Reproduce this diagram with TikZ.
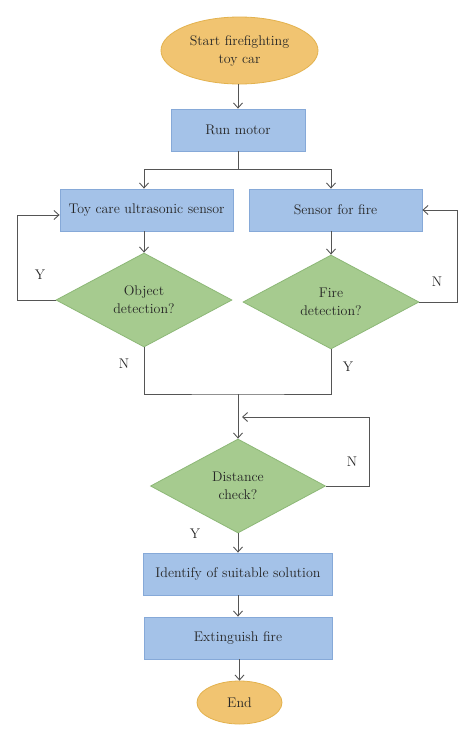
\documentclass[tikz,border=0pt]{standalone}
\usetikzlibrary{shapes.geometric,arrows.meta,calc}
\definecolor{ovfill}{HTML}{F1C471}
\definecolor{ovdraw}{HTML}{E3B24E}
\definecolor{bxfill}{HTML}{A4C2E8}
\definecolor{bxdraw}{HTML}{86A9D8}
\definecolor{dmfill}{HTML}{A6CB8F}
\definecolor{dmdraw}{HTML}{8DB877}
\definecolor{lncol}{HTML}{555555}
\definecolor{txcol}{HTML}{262626}
\begin{document}
\begin{tikzpicture}[x=1pt,y=-1pt,
  every node/.style={font=\fontsize{14}{18}\selectfont,text=txcol,align=center,inner sep=0pt},
  oval/.style={ellipse,fill=ovfill,draw=ovdraw,line width=0.8pt},
  stepbox/.style={rectangle,fill=bxfill,draw=bxdraw,line width=0.8pt,minimum height=42pt},
  decision/.style={diamond,fill=dmfill,draw=dmdraw,line width=0.8pt,minimum width=176pt,minimum height=94pt},
  conn/.style={draw=lncol,line width=0.9pt},
  arr/.style={conn,-{Straight Barb[length=5pt,width=9pt,line width=0.9pt]}},
  lbl/.style={font=\fontsize{14}{16}\selectfont}]
\useasboundingbox (0,0) rectangle (474,742);
\fill[white] (0,0) rectangle (474,742);

\node[oval,minimum width=157pt,minimum height=67pt] (start) at (239.5,50.5) {Start firefighting\\toy car};
\node[stepbox,minimum width=134pt] (run) at (238,130) {Run motor};
\node[stepbox,minimum width=173pt] (toy) at (146.5,210) {Toy care ultrasonic sensor};
\node[stepbox,minimum width=173pt] (sensor) at (335.5,210) {Sensor for fire};
\node[decision] (obj) at (144,300) {Object\\detection?};
\node[decision] (fire) at (331,302) {Fire\\detection?};
\node[decision,minimum width=175pt] (dist) at (238,486) {Distance\\check?};
\node[stepbox,minimum width=189pt] (ident) at (238,574) {Identify of suitable solution};
\node[stepbox,minimum width=188pt] (ext) at (238,638) {Extinguish fire};
\node[oval,minimum width=85pt,minimum height=43pt] (end) at (239.5,702.5) {End};

\coordinate (split) at (238,169);
\coordinate (merge) at (238,394);
\coordinate (lloop) at (17,300);
\coordinate (rloop) at (457,302);
\coordinate (dloop) at (369,486);
\coordinate (dtip) at (242,417);

\draw[arr] (start.south -| run.north) -- (run.north);
\draw[conn] (run.south) -- (split);
\draw[arr] (split) -| (toy.north -| obj.north);
\draw[arr] (split) -| (sensor.north -| fire.north);
\draw[arr] (toy.south -| obj.north) -- (obj.north);
\draw[arr] (sensor.south -| fire.north) -- (fire.north);

\draw[arr] (obj.west) -- (lloop) |- ([yshift=-5pt]toy.west);
\draw[arr] (fire.east) -- (rloop) |- (sensor.east);

\draw[conn] (obj.south) |- (merge) -| (fire.south);
\draw[arr] (merge) -- (dist.north);
\draw[arr] (dist.east) -- (dloop) |- (dtip);

\draw[arr] (dist.south) -- (ident.north);
\draw[arr] (ident.south) -- (ext.north);
\draw[arr] (ext.south -| end.north) -- (end.north);

\node[lbl] (y1) at (40,275) {Y};
\node[lbl] (n1) at (437,282) {N};
\node[lbl] (n2) at (124,364) {N};
\node[lbl] (y2) at (348,367) {Y};
\node[lbl] (n3) at (352,462) {N};
\node[lbl] (y3) at (195,534) {Y};
\end{tikzpicture}
\end{document}
